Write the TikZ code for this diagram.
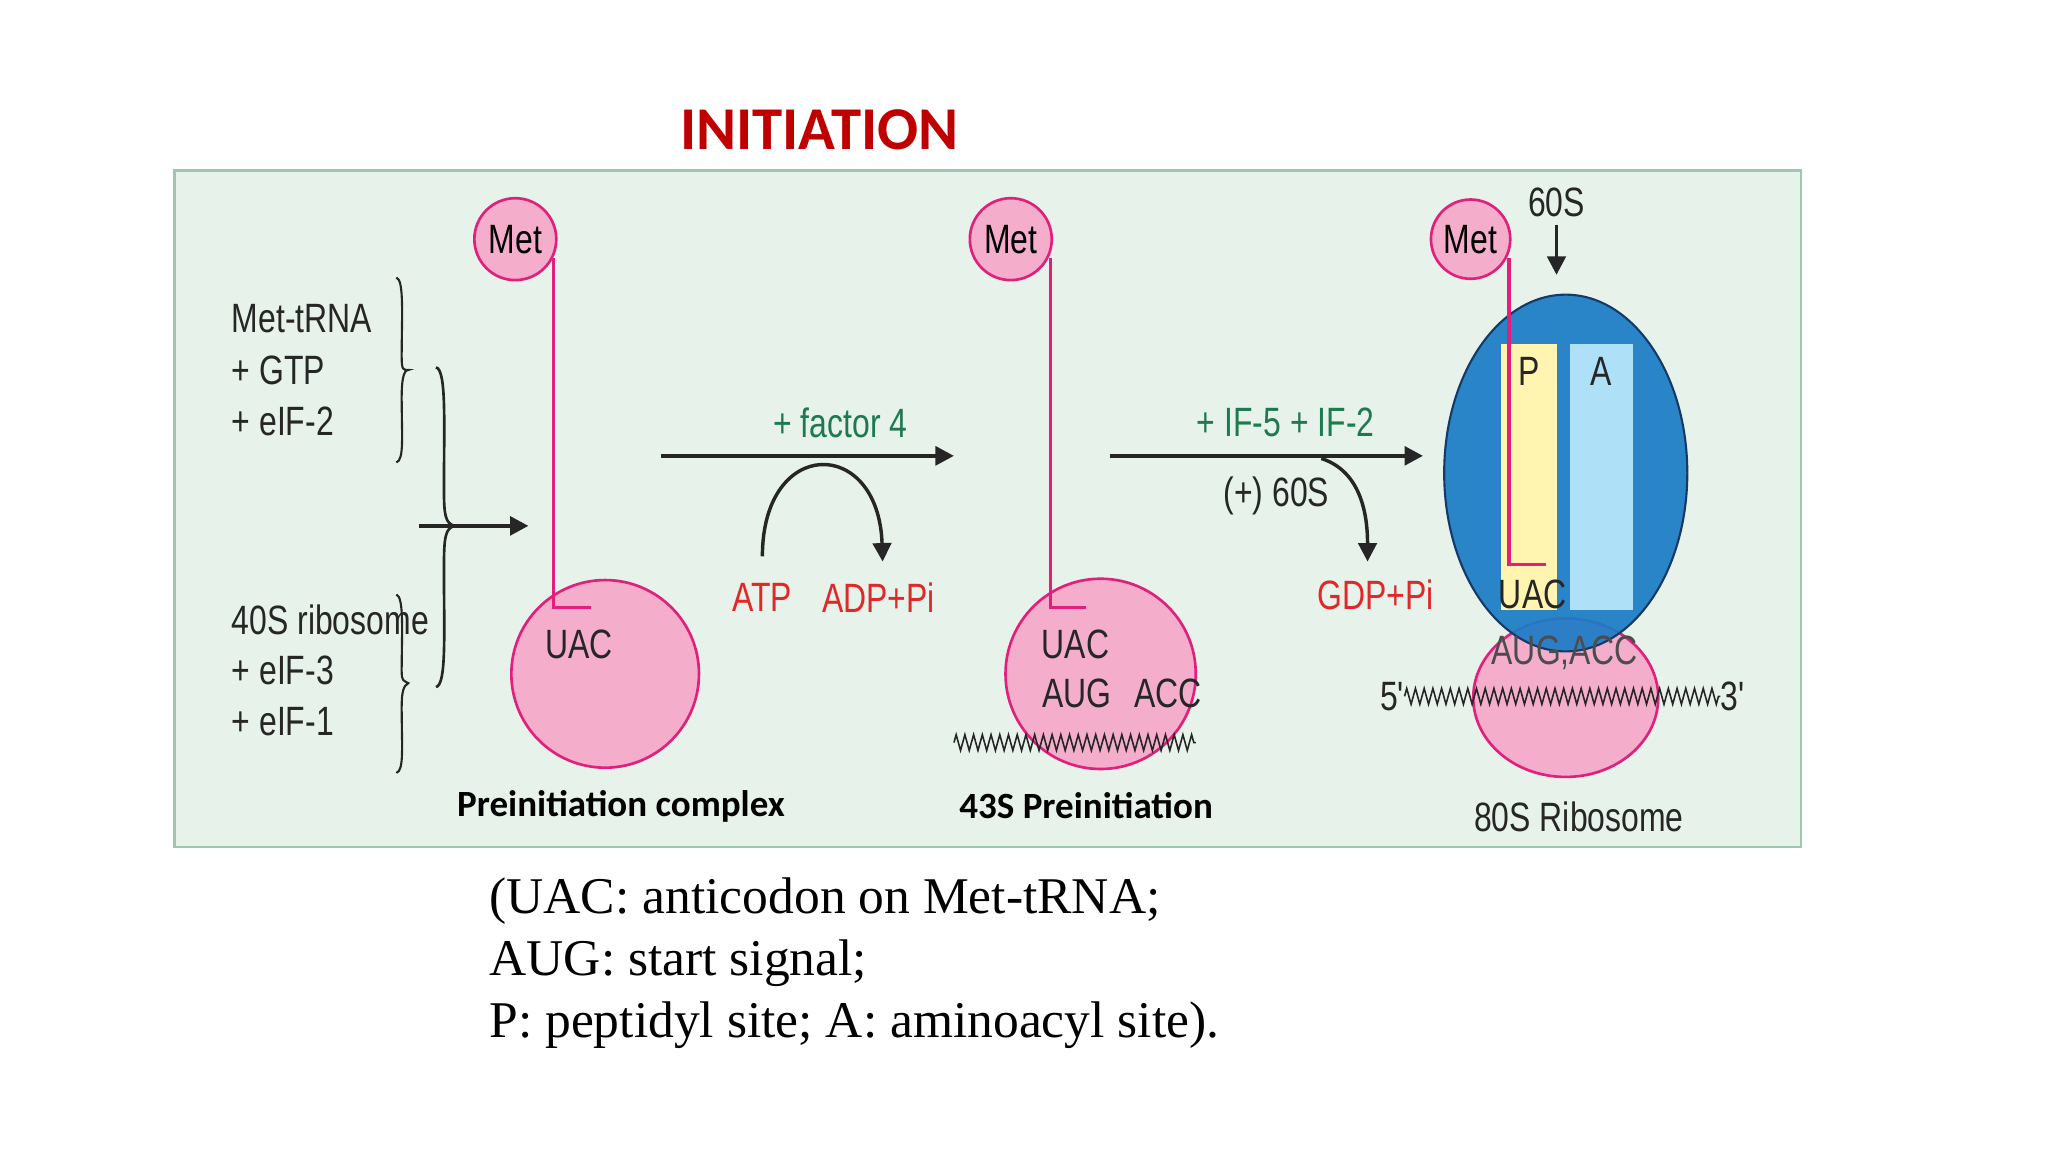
\documentclass[tikz,border=0pt]{standalone}
\usepackage{fontspec}
\setmainfont{Liberation Serif}
\newfontfamily\narrow[FakeStretch=0.78]{Liberation Sans}
\newfontfamily\carl{Carlito}
\usetikzlibrary{arrows.meta,decorations.pathmorphing,shapes.geometric}
\definecolor{bgg}{HTML}{E6F2EA}
\definecolor{frm}{HTML}{9CC9AE}
\definecolor{pinkf}{HTML}{F4AECB}
\definecolor{pinkd}{HTML}{E0207A}
\definecolor{bluer}{HTML}{1B7CC6}
\definecolor{navy}{HTML}{153A66}
\definecolor{pyel}{HTML}{FFF4B0}
\definecolor{abl}{HTML}{AEE0F8}
\definecolor{grn}{HTML}{1E7A4E}
\definecolor{redt}{HTML}{E02828}
\begin{document}
\begin{tikzpicture}[x=0.5pt,y=-0.5pt,
  lbl/.style={font=\narrow\fontsize{15.5}{18.6}\selectfont,text=black!85,inner sep=0},
  met/.style={circle,draw=pinkd,fill=pinkf,line width=1pt,minimum size=62pt*0.5,inner sep=0,font=\narrow\fontsize{15.5}{18}\selectfont},
  stem/.style={pinkd,line width=1.2pt},
  ar/.style={-{Triangle[length=7pt,width=7pt]},line width=1.6pt,black!85},
  capl/.style={font=\carl\bfseries\fontsize{14}{16}\selectfont,inner sep=0},
  zz/.style={decorate,decoration={zigzag,segment length=3.3pt,amplitude=3pt},line width=0.6pt,black!85}]
\useasboundingbox (0,0) rectangle (1550,872);
\fill[white] (0,0) rectangle (1550,872);
\node[font=\carl\bfseries\fontsize{23}{26}\selectfont,text={rgb,255:red,192;green,0;blue,0}] (title) at (620,98) {INITIATION};
\draw[frm,fill=bgg,line width=1pt] (132,129) rectangle (1363,641);

% left inputs
\node[lbl,anchor=west] (t1) at (175,241) {Met-tRNA};
\node[lbl,anchor=west] (t2) at (175,280) {+ GTP};
\node[lbl,anchor=west] (t3) at (175,319) {+ eIF-2};
\node[lbl,anchor=west] (t4) at (175,469) {40S ribosome};
\node[lbl,anchor=west] (t5) at (175,507) {+ eIF-3};
\node[lbl,anchor=west] (t6) at (175,546) {+ eIF-1};
\draw[black!85,line width=0.8pt] (300,210) .. controls (306,212) and (304,240) .. (304,270) .. controls (304,280) and (305,280) .. (309,280) .. controls (305,280) and (304,290) .. (304,300) .. controls (304,330) and (306,348) .. (300,350);
\draw[black!85,line width=0.8pt] (300,450) .. controls (306,452) and (304,480) .. (304,508) .. controls (304,515) and (305,515) .. (309,517) .. controls (305,519) and (304,525) .. (304,535) .. controls (304,565) and (306,583) .. (300,585);
\draw[black!85,line width=1pt] (330,278) .. controls (338,280) and (336,320) .. (336,370) .. controls (336,390) and (337,396) .. (344,398) .. controls (337,400) and (336,406) .. (336,430) .. controls (336,480) and (338,518) .. (330,520);
\coordinate (a0) at (317,398);
\coordinate (a1) at (400,398);
\draw[ar] (a0) -- (a1);

% complex 1
\node[circle,draw=pinkd,fill=pinkf,line width=1pt,minimum size=142*0.5pt,inner sep=0] (r1) at (458,510) {};
\node[met] (m1) at (390,181) {Met};
\draw[stem] (419,195) -- (419,460) -- (447,460);
\node[lbl] (u1) at (438,488) {UAC};
\node[capl] (c1) at (470,610) {Preinitiation complex};

% arrow 1
\coordinate (b0) at (500,345); \coordinate (b1) at (722,345);
\draw[ar] (b0) -- (b1);
\node[lbl,text=grn] (f4) at (636,320) {+ factor 4};
\node[lbl,text=redt] (atp) at (577,452) {ATP};
\node[lbl,text=redt] (adp) at (665,452) {ADP+Pi};
\draw[ar,line width=1.3pt] (577,421) .. controls (577,330) and (665,330) .. (668,425);

% complex 2
\node[circle,draw=pinkd,fill=pinkf,line width=1pt,minimum size=144*0.5pt,inner sep=0] (r2) at (833,510) {};
\node[met] (m2) at (765,181) {Met};
\draw[stem] (795,195) -- (795,460) -- (822,460);
\node[lbl] (u2) at (814,488) {UAC};
\node[lbl] (g2) at (815,525) {AUG};
\node[lbl] (cc2) at (884,525) {ACC};
\draw[zz] (722,562) -- (905,562);
\node[capl] (c2) at (822,610) {43S Preinitiation};

% arrow 2
\coordinate (d0) at (840,345); \coordinate (d1) at (1077,345);
\draw[ar] (d0) -- (d1);
\node[lbl,text=grn] (if) at (973,320) {+ IF-5 + IF-2};
\node[lbl] (s60) at (966,375) {(+) 60S};
\node[lbl,text=redt] (gdp) at (1041,450) {GDP+Pi};
\draw[ar,line width=1.3pt] (1000,347) .. controls (1025,355) and (1035,380) .. (1035,425);

% 80S
\node[ellipse,draw=pinkd,fill=pinkf,line width=1pt,minimum width=140*0.5pt,minimum height=120*0.5pt,inner sep=0] (r3) at (1185,528) {};
\fill[bluer,opacity=0.92] (1185,358) ellipse [x radius=92, y radius=135];
\draw[navy,line width=0.8pt] (1185,358) ellipse [x radius=92, y radius=135];
\fill[pyel] (1136,260) rectangle (1178,462);
\fill[abl] (1188,260) rectangle (1236,462);
\node[lbl] (pp) at (1157,281) {P};
\node[lbl] (aa) at (1212,281) {A};
\node[met,minimum size=60*0.5pt] (m3) at (1113,181) {Met};
\draw[stem] (1142,195) -- (1142,427) -- (1170,427);
\node[lbl] (u3) at (1160,450) {UAC};
\node[lbl,text=black!70] (g3) at (1184,494) {AUG,ACC};
\node[lbl,anchor=east] (p5) at (1063,527) {5'};
\node[lbl,anchor=west] (p3) at (1302,527) {3'};
\draw[zz] (p5.east) -- (p3.west);
\node[lbl] (s60b) at (1178,153) {60S};
\coordinate (e1) at (1178,208);
\draw[ar,line width=1.3pt] (s60b.south) ++(0,6) -- (e1);
\node[lbl] (r80) at (1195,618) {80S Ribosome};

% legend
\node[anchor=north west,align=left,font=\fontsize{19.5}{23.5}\selectfont,inner sep=0] (leg) at (370,664) {(UAC: anticodon on Met-tRNA;\\AUG: start signal;\\P: peptidyl site; A: aminoacyl site).};
\end{tikzpicture}
\end{document}
